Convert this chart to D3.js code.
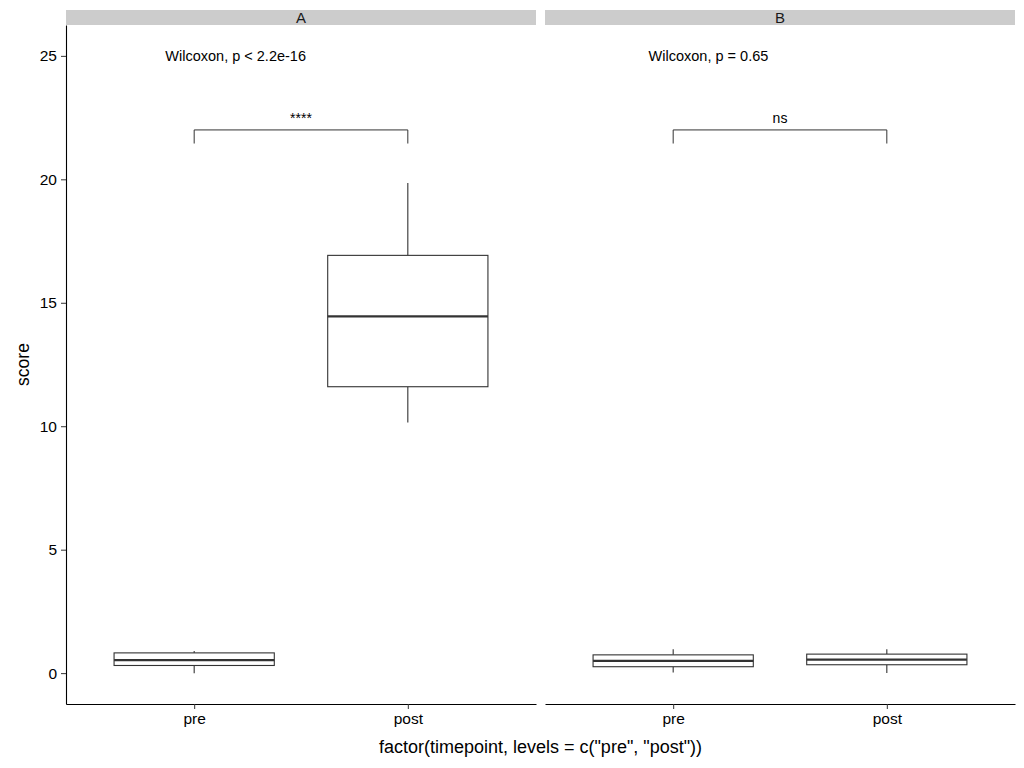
<!DOCTYPE html>
<html>
<head>
<meta charset="utf-8">
<script src="https://cdn.jsdelivr.net/npm/d3@7"></script>
<style>
  body { margin: 0; background: #fff; }
  text { font-family: "Liberation Sans", Arial, sans-serif; }
</style>
</head>
<body>
<div id="chart"></div>
<script>
// facets and x categories
var panels = ["A", "B"];
var timepoints = ["pre", "post"];

// box statistics, one entry per box
var boxPanel = ["A", "A", "B", "B"];
var boxTime = ["pre", "post", "pre", "post"];
var whiskerLow = [0.0, 10.15, 0.03, 0.01];
var q1 = [0.31, 11.6, 0.26, 0.34];
var median = [0.53, 14.45, 0.50, 0.55];
var q3 = [0.82, 16.92, 0.74, 0.77];
var whiskerHigh = [0.90, 19.85, 0.97, 0.97];

// test annotations per panel
var testLabels = ["Wilcoxon, p < 2.2e-16", "Wilcoxon, p = 0.65"];
var testLabelY = 25;
var signifLabels = ["****", "ns"];
var bracketY = 22;
var bracketTipY = 21.45;

var yTicks = [0, 5, 10, 15, 20, 25];

var width = 1024, height = 768;
var margin = {top: 10, left: 66, right: 9, bottom: 64};
var stripH = 15, panelGap = 9;
var panelW = (width - margin.left - margin.right - panelGap) / panels.length;
var plotTop = margin.top + stripH, plotBottom = height - margin.bottom;

var svg = d3.select("#chart").append("svg")
    .attr("width", width)
    .attr("height", height);

var yMin = d3.min(whiskerLow), yMax = testLabelY;
var pad = (yMax - yMin) * 0.05;
var y = d3.scaleLinear()
    .domain([yMin - pad, yMax + pad])
    .range([plotBottom, plotTop]);

var x = d3.scalePoint()
    .domain(timepoints)
    .range([0, panelW])
    .padding(0.6);
var step = x.step();
var boxW = step * 0.75;

panels.forEach(function (p, pi) {
    var x0 = margin.left + pi * (panelW + panelGap);
    var g = svg.append("g")
        .attr("transform", "translate(" + x0 + ",0)");

    // strip
    g.append("rect")
        .attr("x", 0).attr("y", margin.top)
        .attr("width", panelW).attr("height", stripH)
        .attr("fill", "#cccccc");
    g.append("text")
        .attr("x", panelW / 2).attr("y", margin.top + stripH / 2)
        .attr("dy", "0.36em")
        .attr("text-anchor", "middle")
        .attr("font-size", 15)
        .attr("fill", "#1a1a1a")
        .text(p);

    // x axis
    var xAxis = g.append("g")
        .attr("transform", "translate(0," + plotBottom + ")")
        .call(d3.axisBottom(x).tickSize(5).tickPadding(4).tickSizeOuter(0));
    xAxis.select(".domain").attr("stroke", "#000").attr("stroke-width", 1.1);
    xAxis.selectAll(".tick line").attr("stroke", "#333");
    xAxis.selectAll(".tick text")
        .attr("font-size", 15.5).attr("fill", "#000")
        .style("font-family", "'Liberation Sans', Arial, sans-serif");

    // y axis on first panel only
    if (pi === 0) {
        var yAxis = g.append("g")
            .call(d3.axisLeft(y).tickValues(yTicks).tickSize(5).tickPadding(4).tickSizeOuter(0));
        yAxis.select(".domain").attr("stroke", "#000").attr("stroke-width", 1.1);
        yAxis.selectAll(".tick line").attr("stroke", "#333");
        yAxis.selectAll(".tick text")
            .attr("font-size", 15.5).attr("fill", "#000")
            .style("font-family", "'Liberation Sans', Arial, sans-serif");
    }

    // boxes
    var idx = d3.range(boxPanel.length).filter(function (i) { return boxPanel[i] === p; });
    var box = g.selectAll("g.box")
        .data(idx)
        .enter().append("g")
        .attr("class", "box");

    box.append("line")
        .attr("x1", function (i) { return x(boxTime[i]); })
        .attr("x2", function (i) { return x(boxTime[i]); })
        .attr("y1", function (i) { return y(q3[i]); })
        .attr("y2", function (i) { return y(whiskerHigh[i]); })
        .attr("stroke", "#333").attr("stroke-width", 1.1);
    box.append("line")
        .attr("x1", function (i) { return x(boxTime[i]); })
        .attr("x2", function (i) { return x(boxTime[i]); })
        .attr("y1", function (i) { return y(q1[i]); })
        .attr("y2", function (i) { return y(whiskerLow[i]); })
        .attr("stroke", "#333").attr("stroke-width", 1.1);
    box.append("rect")
        .attr("x", function (i) { return x(boxTime[i]) - boxW / 2; })
        .attr("y", function (i) { return y(q3[i]); })
        .attr("width", boxW)
        .attr("height", function (i) { return y(q1[i]) - y(q3[i]); })
        .attr("fill", "#fff")
        .attr("stroke", "#333").attr("stroke-width", 1.1);
    box.append("line")
        .attr("x1", function (i) { return x(boxTime[i]) - boxW / 2; })
        .attr("x2", function (i) { return x(boxTime[i]) + boxW / 2; })
        .attr("y1", function (i) { return y(median[i]); })
        .attr("y2", function (i) { return y(median[i]); })
        .attr("stroke", "#333").attr("stroke-width", 2.2);

    // bracket
    var bx1 = x(timepoints[0]), bx2 = x(timepoints[1]);
    g.append("path")
        .attr("d", "M" + bx1 + "," + y(bracketTipY) +
            "V" + y(bracketY) + "H" + bx2 + "V" + y(bracketTipY))
        .attr("fill", "none")
        .attr("stroke", "#333").attr("stroke-width", 1);
    g.append("text")
        .attr("x", (bx1 + bx2) / 2).attr("y", y(bracketY) - 7)
        .attr("text-anchor", "middle")
        .attr("font-size", 14)
        .attr("fill", "#000")
        .text(signifLabels[pi]);

    // global test label
    g.append("text")
        .attr("x", x(timepoints[0]) - step * (pi === 0 ? 0.135 : 0.115))
        .attr("y", y(testLabelY))
        .attr("dy", "0.36em")
        .attr("font-size", 14.5)
        .attr("fill", "#000")
        .text(testLabels[pi]);
});

// axis titles
svg.append("text")
    .attr("x", margin.left + (width - margin.left - margin.right) / 2)
    .attr("y", 753)
    .attr("text-anchor", "middle")
    .attr("font-size", 18)
    .attr("fill", "#000")
    .text('factor(timepoint, levels = c("pre", "post"))');

svg.append("text")
    .attr("transform", "translate(29," + ((plotTop + plotBottom) / 2) + ") rotate(-90)")
    .attr("text-anchor", "middle")
    .attr("font-size", 17.5)
    .attr("fill", "#000")
    .text("score");
</script>
</body>
</html>
